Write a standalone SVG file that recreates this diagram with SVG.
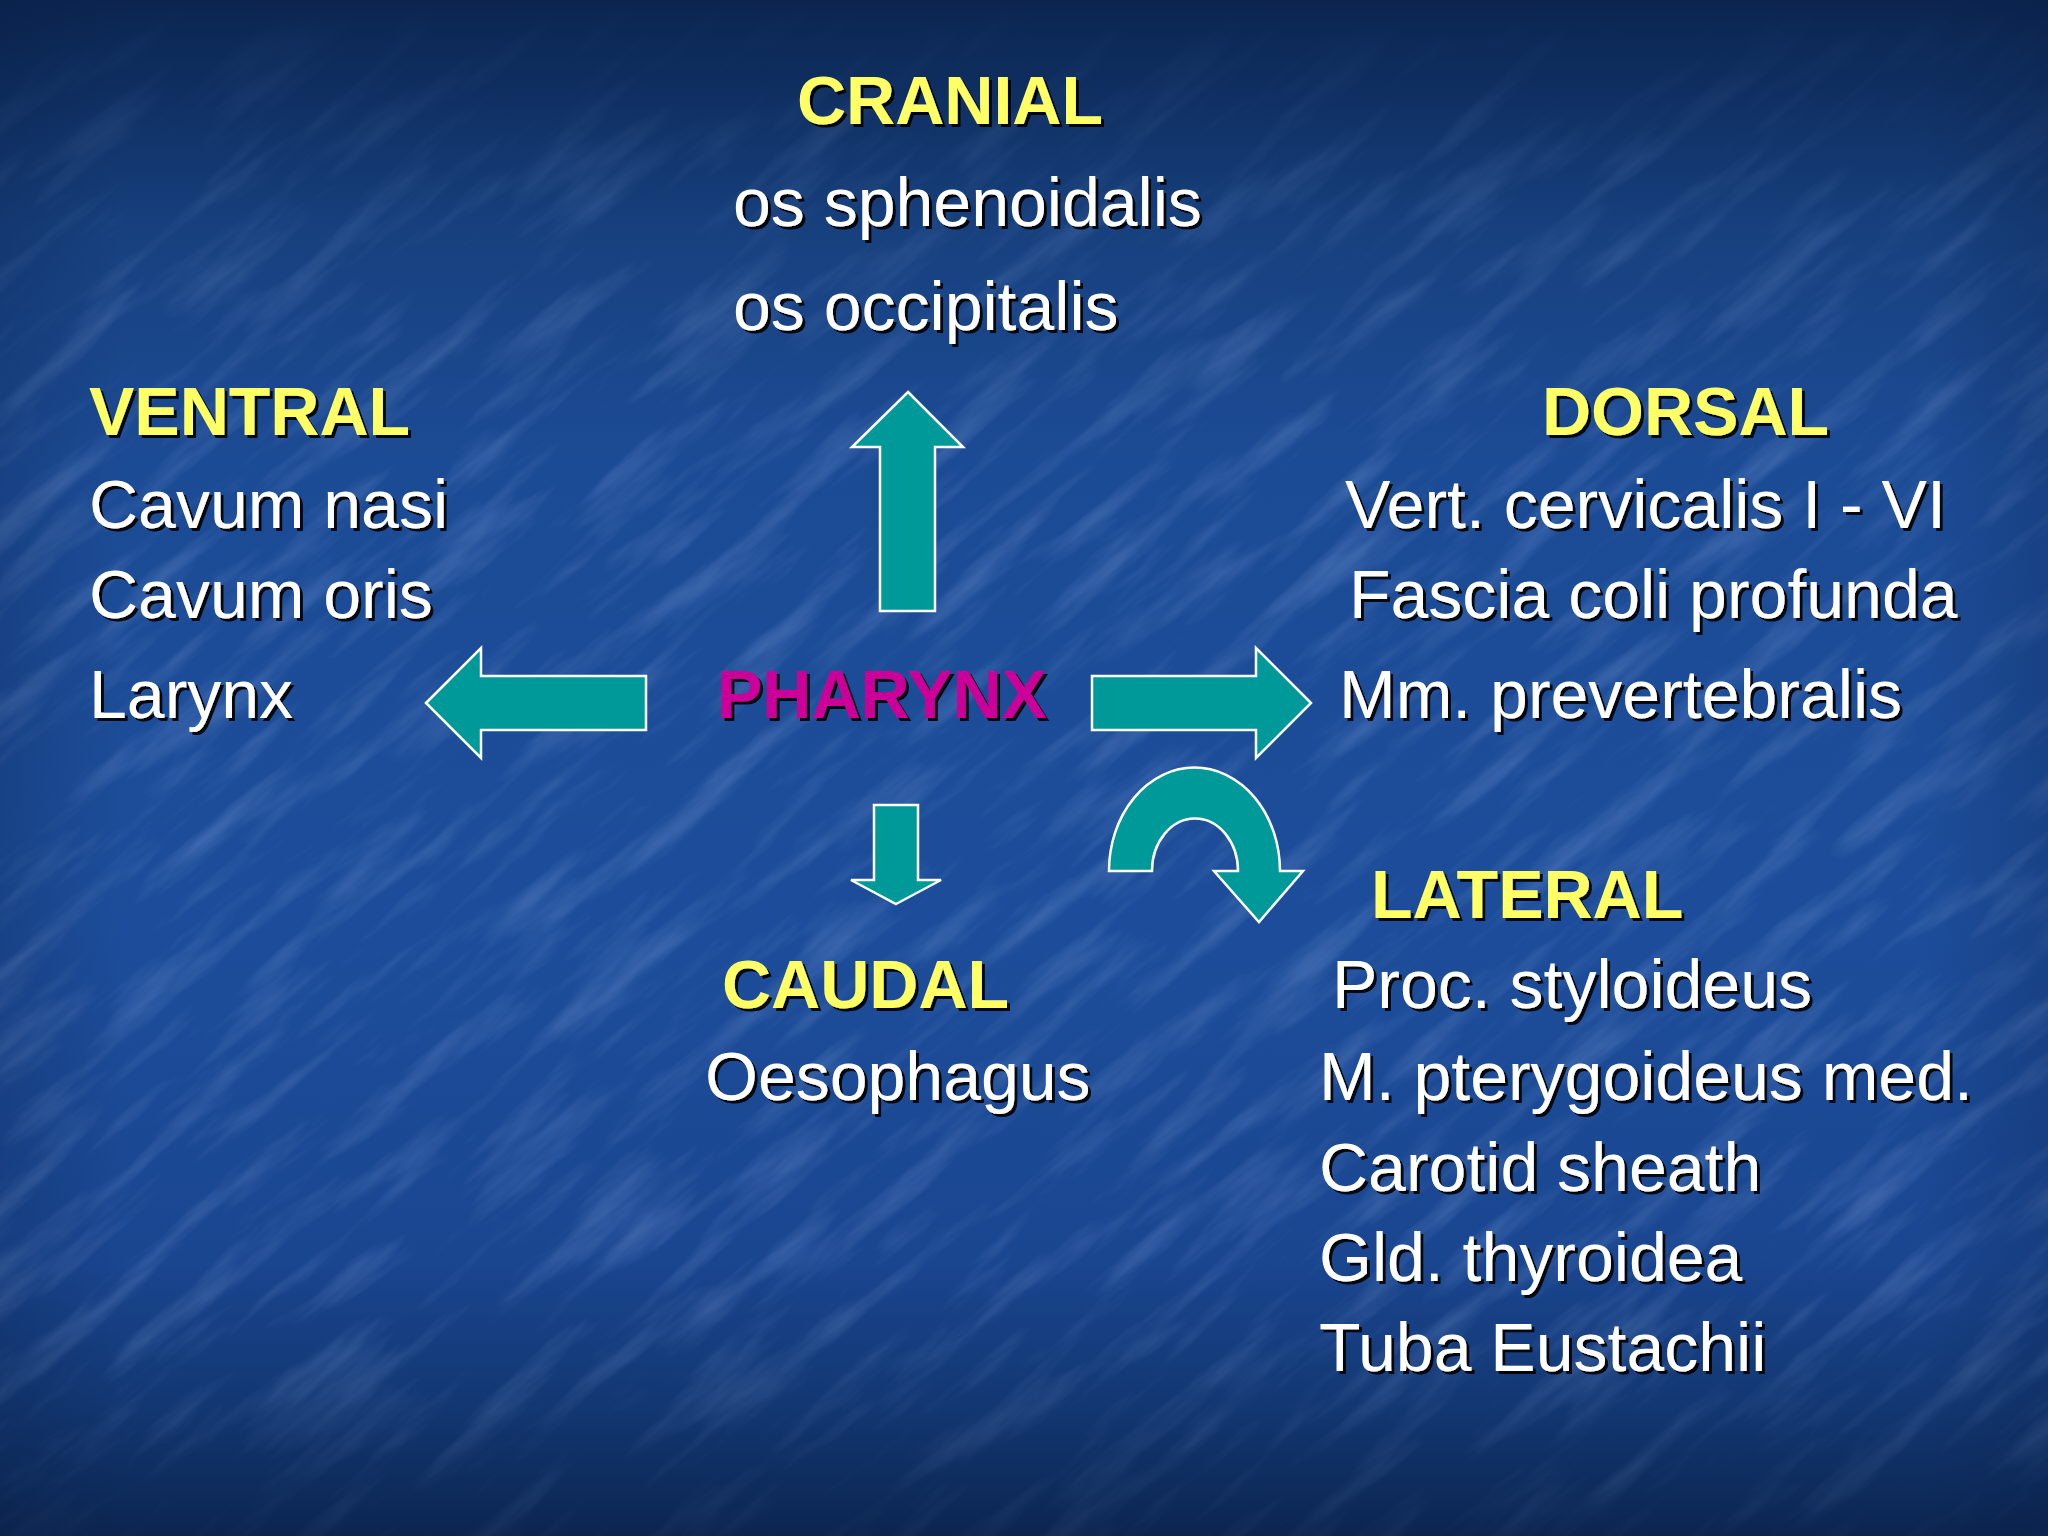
<svg xmlns="http://www.w3.org/2000/svg" width="2048" height="1536" viewBox="0 0 2048 1536">
  <defs>
    <linearGradient id="bg" x1="0" y1="0" x2="0" y2="1">
      <stop offset="0" stop-color="#0b2550"/>
      <stop offset="0.05" stop-color="#0e2d5e"/>
      <stop offset="0.15" stop-color="#17407e"/>
      <stop offset="0.3" stop-color="#1c4b95"/>
      <stop offset="0.6" stop-color="#1d4d9a"/>
      <stop offset="0.82" stop-color="#1a4690"/>
      <stop offset="0.92" stop-color="#123670"/>
      <stop offset="1" stop-color="#0b2550"/>
    </linearGradient>
    <linearGradient id="side" x1="0" y1="0" x2="1" y2="0">
      <stop offset="0" stop-color="#06183a" stop-opacity="0.2"/>
      <stop offset="0.06" stop-color="#06183a" stop-opacity="0"/>
      <stop offset="0.94" stop-color="#06183a" stop-opacity="0"/>
      <stop offset="1" stop-color="#06183a" stop-opacity="0.2"/>
    </linearGradient>
    <linearGradient id="fade" x1="0" y1="0" x2="0" y2="1">
      <stop offset="0" stop-color="#fff" stop-opacity="0"/>
      <stop offset="0.12" stop-color="#fff" stop-opacity="0.6"/>
      <stop offset="0.3" stop-color="#fff" stop-opacity="1"/>
      <stop offset="0.85" stop-color="#fff" stop-opacity="1"/>
      <stop offset="1" stop-color="#fff" stop-opacity="0.3"/>
    </linearGradient>
    <mask id="texmask">
      <rect width="2048" height="1536" fill="url(#fade)"/>
    </mask>
    <filter id="tex" x="0" y="0" width="100%" height="100%">
      <feTurbulence type="fractalNoise" baseFrequency="0.006 0.035" numOctaves="5" seed="11"/>
      <feColorMatrix type="matrix" values="0 0 0 0 0.45  0 0 0 0 0.62  0 0 0 0 1  0 0 0 1.8 -0.85"/>
    </filter>
    <filter id="sh" x="-5%" y="-20%" width="115%" height="150%">
      <feDropShadow dx="3" dy="3" stdDeviation="0.6" flood-color="#000" flood-opacity="0.9"/>
    </filter>
    <style>
      text { font-family: "Liberation Sans", Arial, sans-serif; font-size: 68px; filter: url(#sh); }
      .h { font-weight: bold; fill: #ffff66; }
      .t { fill: #ffffff; }
      .p { font-weight: bold; fill: #cc0099; }
      .arr { fill: #009999; stroke: #ffffff; stroke-width: 2.5; stroke-linejoin: miter; }
    </style>
  </defs>

  <rect width="2048" height="1536" fill="url(#bg)"/>
  <g opacity="0.28" mask="url(#texmask)">
    <rect x="-600" y="-600" width="3300" height="2800" filter="url(#tex)" transform="rotate(-40 1024 768)"/>
  </g>
  <rect width="2048" height="1536" fill="url(#side)"/>

  <g id="connectors">
    <polygon id="arrow-up" class="arr" points="908,392 963,447 935,447 935,611 880,611 880,447 852,447"/>
    <polygon id="arrow-left" class="arr" points="426,703 481,648 481,676 646,676 646,730 481,730 481,758"/>
    <polygon id="arrow-right" class="arr" points="1311,703 1256,648 1256,676 1092,676 1092,730 1256,730 1256,758"/>
    <polygon id="arrow-down" class="arr" points="896,904 941,880 918,880 918,805 874,805 874,880 851,880"/>
    <path id="arrow-lateral" class="arr" d="M1109,871 A85.5,103.4 0 0 1 1280,871 L1303,871 L1259,922 L1214,871 L1238,871 A43,52.5 0 0 0 1152,871 Z"/>
  </g>

  <g id="cranial">
    <text class="h" x="797" y="124">CRANIAL</text>
    <text class="t" x="733" y="226">os sphenoidalis</text>
    <text class="t" x="733" y="330">os occipitalis</text>
  </g>

  <g id="ventral">
    <text class="h" x="89" y="435">VENTRAL</text>
    <text class="t" x="89" y="528">Cavum nasi</text>
    <text class="t" x="89" y="618">Cavum oris</text>
    <text class="t" x="89" y="718">Larynx</text>
  </g>

  <g id="dorsal">
    <text class="h" x="1542" y="435">DORSAL</text>
    <text class="t" x="1345" y="528">Vert. cervicalis I - VI</text>
    <text class="t" x="1349" y="618">Fascia coli profunda</text>
    <text class="t" x="1339" y="718">Mm. prevertebralis</text>
  </g>

  <g id="pharynx">
    <text class="p" x="717" y="718">PHARYNX</text>
  </g>

  <g id="caudal">
    <text class="h" x="722" y="1008">CAUDAL</text>
    <text class="t" x="705" y="1100">Oesophagus</text>
  </g>

  <g id="lateral">
    <text class="h" x="1371" y="918">LATERAL</text>
    <text class="t" x="1332" y="1008">Proc. styloideus</text>
    <text class="t" x="1319" y="1100">M. pterygoideus med.</text>
    <text class="t" x="1319" y="1191">Carotid sheath</text>
    <text class="t" x="1319" y="1281">Gld. thyroidea</text>
    <text class="t" x="1319" y="1371">Tuba Eustachii</text>
  </g>
</svg>
